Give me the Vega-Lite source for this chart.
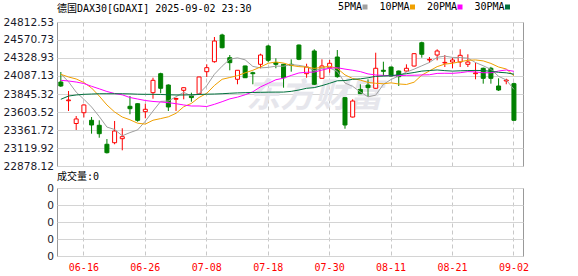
{
  "$schema": "https://vega.github.io/schema/vega-lite/v6.json",
  "background": "white",
  "padding": {"left": 2, "top": 2, "right": 2, "bottom": 2},
  "spacing": -2,
  "config": {
    "view": {"stroke": "#999999", "strokeWidth": 1},
    "axis": {"domain": false, "ticks": false, "gridColor": "#d4d4d4", "gridWidth": 1, "labelFont": "DejaVu Sans", "labelFontSize": 10.6, "labelColor": "#1a1a2a"},
    "legend": {
      "orient": "none", "legendX": 303, "legendY": -20, "direction": "horizontal", "title": null,
      "symbolType": "stroke", "symbolSize": 25, "symbolStrokeWidth": 5,
      "labelFont": "DejaVu Sans Mono", "labelFontSize": 10, "labelColor": "#000000",
      "labelAlign": "right", "labelOffset": -8, "columnPadding": 0.5, "padding": 0
    }
  },
  "datasets": {
    "k": [
      {"d":"06-11","o":24006,"h":24141,"l":23940,"c":23953,"5PMA":24115,"10PMA":24110,"20PMA":24029,"30PMA":23774,"v":0},
      {"d":"06-12","o":23755,"h":23886,"l":23617,"c":23765,"5PMA":24010,"10PMA":24074,"20PMA":24020,"30PMA":23818,"v":0},
      {"d":"06-13","o":23449,"h":23550,"l":23362,"c":23510,"5PMA":23870,"10PMA":24047,"20PMA":24006,"30PMA":23832,"v":0},
      {"d":"06-16","o":23594,"h":23705,"l":23530,"c":23698,"5PMA":23775,"10PMA":24000,"20PMA":23986,"30PMA":23841,"v":0},
      {"d":"06-17","o":23492,"h":23536,"l":23312,"c":23429,"5PMA":23671,"10PMA":23926,"20PMA":23949,"30PMA":23845,"v":0},
      {"d":"06-18","o":23425,"h":23492,"l":23258,"c":23312,"5PMA":23543,"10PMA":23818,"20PMA":23915,"30PMA":23849,"v":0},
      {"d":"06-19","o":23170,"h":23240,"l":23046,"c":23057,"5PMA":23401,"10PMA":23698,"20PMA":23879,"30PMA":23849,"v":0},
      {"d":"06-20","o":23191,"h":23483,"l":23170,"c":23348,"5PMA":23369,"10PMA":23604,"20PMA":23852,"30PMA":23849,"v":0},
      {"d":"06-23","o":23245,"h":23385,"l":23089,"c":23272,"5PMA":23284,"10PMA":23536,"20PMA":23834,"30PMA":23849,"v":0},
      {"d":"06-24","o":23680,"h":23818,"l":23573,"c":23648,"5PMA":23327,"10PMA":23499,"20PMA":23798,"30PMA":23847,"v":0},
      {"d":"06-25","o":23715,"h":23720,"l":23473,"c":23492,"5PMA":23363,"10PMA":23453,"20PMA":23778,"30PMA":23843,"v":0},
      {"d":"06-26","o":23608,"h":23715,"l":23519,"c":23640,"5PMA":23480,"10PMA":23441,"20PMA":23758,"30PMA":23841,"v":0},
      {"d":"06-27","o":23863,"h":24064,"l":23782,"c":24029,"5PMA":23616,"10PMA":23493,"20PMA":23745,"30PMA":23841,"v":0},
      {"d":"06-30","o":24118,"h":24131,"l":23855,"c":23922,"5PMA":23746,"10PMA":23515,"20PMA":23738,"30PMA":23839,"v":0},
      {"d":"07-01","o":23966,"h":23975,"l":23617,"c":23671,"5PMA":23751,"10PMA":23539,"20PMA":23729,"30PMA":23835,"v":0},
      {"d":"07-02","o":23775,"h":23796,"l":23617,"c":23785,"5PMA":23809,"10PMA":23586,"20PMA":23715,"30PMA":23832,"v":0},
      {"d":"07-03","o":23895,"h":23932,"l":23774,"c":23930,"5PMA":23867,"10PMA":23674,"20PMA":23698,"30PMA":23832,"v":0},
      {"d":"07-04","o":23820,"h":23863,"l":23742,"c":23797,"5PMA":23821,"10PMA":23719,"20PMA":23684,"30PMA":23835,"v":0},
      {"d":"07-07","o":23849,"h":24076,"l":23847,"c":24074,"5PMA":23851,"10PMA":23799,"20PMA":23684,"30PMA":23839,"v":0},
      {"d":"07-08","o":24145,"h":24244,"l":24074,"c":24199,"5PMA":23957,"10PMA":23854,"20PMA":23677,"30PMA":23843,"v":0},
      {"d":"07-09","o":24279,"h":24611,"l":24266,"c":24557,"5PMA":24111,"10PMA":23960,"20PMA":23707,"30PMA":23845,"v":0},
      {"d":"07-10","o":24638,"h":24655,"l":24459,"c":24467,"5PMA":24219,"10PMA":24043,"20PMA":23742,"30PMA":23849,"v":0},
      {"d":"07-11","o":24333,"h":24369,"l":24164,"c":24266,"5PMA":24313,"10PMA":24067,"20PMA":23780,"30PMA":23855,"v":0},
      {"d":"07-14","o":24043,"h":24166,"l":23976,"c":24164,"5PMA":24331,"10PMA":24091,"20PMA":23803,"30PMA":23860,"v":0},
      {"d":"07-15","o":24222,"h":24225,"l":24060,"c":24064,"5PMA":24304,"10PMA":24130,"20PMA":23835,"30PMA":23863,"v":0},
      {"d":"07-16","o":24131,"h":24145,"l":23976,"c":24118,"5PMA":24216,"10PMA":24164,"20PMA":23875,"30PMA":23866,"v":0},
      {"d":"07-17","o":24244,"h":24387,"l":24191,"c":24369,"5PMA":24196,"10PMA":24208,"20PMA":23941,"30PMA":23868,"v":0},
      {"d":"07-18","o":24490,"h":24505,"l":24270,"c":24298,"5PMA":24203,"10PMA":24258,"20PMA":23988,"30PMA":23870,"v":0},
      {"d":"07-21","o":24266,"h":24325,"l":24191,"c":24244,"5PMA":24219,"10PMA":24275,"20PMA":24037,"30PMA":23871,"v":0},
      {"d":"07-22","o":24244,"h":24250,"l":23930,"c":24064,"5PMA":24219,"10PMA":24261,"20PMA":24058,"30PMA":23871,"v":0},
      {"d":"07-23","o":24244,"h":24311,"l":24145,"c":24232,"5PMA":24241,"10PMA":24229,"20PMA":24095,"30PMA":23881,"v":0},
      {"d":"07-24","o":24503,"h":24510,"l":24300,"c":24312,"5PMA":24230,"10PMA":24213,"20PMA":24128,"30PMA":23899,"v":0},
      {"d":"07-25","o":24118,"h":24252,"l":24064,"c":24208,"5PMA":24212,"10PMA":24207,"20PMA":24137,"30PMA":23922,"v":0},
      {"d":"07-28","o":24423,"h":24446,"l":23966,"c":23976,"5PMA":24158,"10PMA":24189,"20PMA":24140,"30PMA":23931,"v":0},
      {"d":"07-29","o":24056,"h":24311,"l":24050,"c":24222,"5PMA":24190,"10PMA":24204,"20PMA":24167,"30PMA":23958,"v":0},
      {"d":"07-30","o":24199,"h":24302,"l":24131,"c":24258,"5PMA":24195,"10PMA":24218,"20PMA":24191,"30PMA":23989,"v":0},
      {"d":"07-31","o":24342,"h":24436,"l":24064,"c":24078,"5PMA":24148,"10PMA":24189,"20PMA":24198,"30PMA":24023,"v":0},
      {"d":"08-01","o":23796,"h":23805,"l":23379,"c":23429,"5PMA":23993,"10PMA":24102,"20PMA":24180,"30PMA":24026,"v":0},
      {"d":"08-04","o":23536,"h":23774,"l":23530,"c":23751,"5PMA":23948,"10PMA":24053,"20PMA":24164,"30PMA":24042,"v":0},
      {"d":"08-05","o":23908,"h":23976,"l":23845,"c":23849,"5PMA":23873,"10PMA":24032,"20PMA":24146,"30PMA":24049,"v":0},
      {"d":"08-06","o":23966,"h":24043,"l":23805,"c":23930,"5PMA":23807,"10PMA":24001,"20PMA":24115,"30PMA":24063,"v":0},
      {"d":"08-07","o":23922,"h":24400,"l":23915,"c":24191,"5PMA":23830,"10PMA":23989,"20PMA":24101,"30PMA":24082,"v":0},
      {"d":"08-08","o":24164,"h":24279,"l":24087,"c":24150,"5PMA":23974,"10PMA":23983,"20PMA":24095,"30PMA":24086,"v":0},
      {"d":"08-11","o":24208,"h":24212,"l":24080,"c":24087,"5PMA":24041,"10PMA":23995,"20PMA":24092,"30PMA":24091,"v":0},
      {"d":"08-12","o":24154,"h":24160,"l":23953,"c":24078,"5PMA":24087,"10PMA":23980,"20PMA":24092,"30PMA":24105,"v":0},
      {"d":"08-13","o":24154,"h":24244,"l":24145,"c":24191,"5PMA":24139,"10PMA":23973,"20PMA":24096,"30PMA":24118,"v":0},
      {"d":"08-14","o":24221,"h":24395,"l":24215,"c":24387,"5PMA":24179,"10PMA":24004,"20PMA":24097,"30PMA":24134,"v":0},
      {"d":"08-15","o":24534,"h":24548,"l":24333,"c":24379,"5PMA":24224,"10PMA":24099,"20PMA":24101,"30PMA":24153,"v":0},
      {"d":"08-18","o":24302,"h":24342,"l":24266,"c":24310,"5PMA":24269,"10PMA":24155,"20PMA":24104,"30PMA":24161,"v":0},
      {"d":"08-19","o":24369,"h":24446,"l":24298,"c":24423,"5PMA":24338,"10PMA":24213,"20PMA":24122,"30PMA":24168,"v":0},
      {"d":"08-20","o":24262,"h":24369,"l":24208,"c":24270,"5PMA":24354,"10PMA":24247,"20PMA":24124,"30PMA":24159,"v":0},
      {"d":"08-21","o":24275,"h":24333,"l":24191,"c":24302,"5PMA":24337,"10PMA":24258,"20PMA":24123,"30PMA":24153,"v":0},
      {"d":"08-22","o":24275,"h":24446,"l":24208,"c":24365,"5PMA":24334,"10PMA":24279,"20PMA":24131,"30PMA":24157,"v":0},
      {"d":"08-25","o":24244,"h":24379,"l":24208,"c":24275,"5PMA":24327,"10PMA":24298,"20PMA":24146,"30PMA":24160,"v":0},
      {"d":"08-26","o":24118,"h":24266,"l":24043,"c":24128,"5PMA":24268,"10PMA":24303,"20PMA":24142,"30PMA":24162,"v":0},
      {"d":"08-27","o":24191,"h":24200,"l":23984,"c":24056,"5PMA":24225,"10PMA":24290,"20PMA":24131,"30PMA":24160,"v":0},
      {"d":"08-28","o":24191,"h":24210,"l":23984,"c":24056,"5PMA":24176,"10PMA":24256,"20PMA":24130,"30PMA":24150,"v":0},
      {"d":"08-29","o":23953,"h":24056,"l":23886,"c":23899,"5PMA":24083,"10PMA":24208,"20PMA":24154,"30PMA":24137,"v":0},
      {"d":"09-01","o":24020,"h":24051,"l":23976,"c":24033,"5PMA":24034,"10PMA":24181,"20PMA":24168,"30PMA":24130,"v":0},
      {"d":"09-02","o":23984,"h":23997,"l":23490,"c":23492,"5PMA":23907,"10PMA":24088,"20PMA":24150,"30PMA":24111,"v":0}
    ]
  },
  "vconcat": [
    {
      "width": 466,
      "height": 144,
      "title": {"text": "德国DAX30[GDAXI] 2025-09-02 23:30", "anchor": "start", "frame": "group", "font": "DejaVu Sans Mono, Noto Sans CJK SC", "fontSize": 10, "fontWeight": "normal", "color": "#000000", "offset": 3},
      "data": {"name": "k"},
      "encoding": {
        "x": {
          "field": "d", "type": "ordinal", "sort": null, "title": null,
          "scale": {"type": "band", "paddingInner": 0, "paddingOuter": 0.34, "align": 0, "domain": ["06-11","06-12","06-13","06-16","06-17","06-18","06-19","06-20","06-23","06-24","06-25","06-26","06-27","06-30","07-01","07-02","07-03","07-04","07-07","07-08","07-09","07-10","07-11","07-14","07-15","07-16","07-17","07-18","07-21","07-22","07-23","07-24","07-25","07-28","07-29","07-30","07-31","08-01","08-04","08-05","08-06","08-07","08-08","08-11","08-12","08-13","08-14","08-15","08-18","08-19","08-20","08-21","08-22","08-25","08-26","08-27","08-28","08-29","09-01","09-02"]},
          "axis": {"values": ["06-16","06-26","07-08","07-18","07-30","08-11","08-21","09-02"], "labels": false, "ticks": false, "domain": false, "grid": true, "gridDash": [4, 3], "gridColor": "#c8c8c8", "labelPadding": 0, "title": null}
        }
      },
      "layer": [
        {
          "data": {"values": [{"d": "07-28", "p": 23800, "t": "东方财富"}]},
          "mark": {"type": "text", "font": "Noto Sans CJK SC", "fontSize": 34, "fontWeight": "bold", "fontStyle": "italic", "color": "#e6e6ec"},
          "encoding": {
            "y": {"field": "p", "type": "quantitative", "scale": {"domain": [22878.12, 24812.53], "nice": false, "zero": false}, "axis": {"title": null, "values": [22878.12, 23119.92, 23361.72, 23603.52, 23845.32, 24087.13, 24328.93, 24570.73, 24812.53], "format": ".2f", "grid": true, "labelPadding": 3.5, "labelOverlap": false}},
            "text": {"field": "t"}
          }
        },
        {
          "mark": {"type": "rule", "strokeWidth": 1},
          "encoding": {
            "y": {"field": "l", "type": "quantitative", "scale": {"domain": [22878.12, 24812.53], "nice": false, "zero": false}, "axis": {"title": null, "values": [22878.12, 23119.92, 23361.72, 23603.52, 23845.32, 24087.13, 24328.93, 24570.73, 24812.53], "format": ".2f", "grid": true, "labelPadding": 3.5, "labelOverlap": false}},
            "y2": {"field": "h"},
            "color": {"condition": {"test": "datum.c >= datum.o", "value": "#ff0000"}, "value": "#008000"}
          }
        },
        {
          "mark": {"type": "bar", "size": 4, "strokeWidth": 1},
          "encoding": {
            "y": {"field": "o", "type": "quantitative", "scale": {"domain": [22878.12, 24812.53], "nice": false, "zero": false}, "axis": {"title": null, "values": [22878.12, 23119.92, 23361.72, 23603.52, 23845.32, 24087.13, 24328.93, 24570.73, 24812.53], "format": ".2f", "grid": true, "labelPadding": 3.5, "labelOverlap": false}},
            "y2": {"field": "c"},
            "fill": {"condition": {"test": "datum.c >= datum.o", "value": "#ffffff"}, "value": "#008000"},
            "stroke": {"condition": {"test": "datum.c >= datum.o", "value": "#ff0000"}, "value": "#008000"}
          }
        },
        {
          "transform": [{"fold": ["5PMA", "10PMA", "20PMA", "30PMA"], "as": ["ma", "val"]}],
          "mark": {"type": "line", "strokeWidth": 1},
          "encoding": {
            "y": {"field": "val", "type": "quantitative", "scale": {"domain": [22878.12, 24812.53], "nice": false, "zero": false}, "axis": {"title": null, "values": [22878.12, 23119.92, 23361.72, 23603.52, 23845.32, 24087.13, 24328.93, 24570.73, 24812.53], "format": ".2f", "grid": true, "labelPadding": 3.5, "labelOverlap": false}},
            "color": {"field": "ma", "type": "nominal", "scale": {"domain": ["5PMA", "10PMA", "20PMA", "30PMA"], "range": ["#a0a0a0", "#f0a000", "#ff00ff", "#00703c"]}, "legend": {}}
          }
        }
      ]
    },
    {
      "width": 466,
      "height": 68,
      "title": {"text": "成交量:0", "anchor": "start", "frame": "group", "font": "DejaVu Sans Mono, Noto Sans CJK SC", "fontSize": 10, "fontWeight": "normal", "color": "#000000", "offset": 1},
      "data": {"name": "k"},
      "mark": {"type": "bar", "size": 4},
      "encoding": {
        "x": {
          "field": "d", "type": "ordinal", "sort": null, "title": null,
          "scale": {"type": "band", "paddingInner": 0, "paddingOuter": 0.34, "align": 0, "domain": ["06-11","06-12","06-13","06-16","06-17","06-18","06-19","06-20","06-23","06-24","06-25","06-26","06-27","06-30","07-01","07-02","07-03","07-04","07-07","07-08","07-09","07-10","07-11","07-14","07-15","07-16","07-17","07-18","07-21","07-22","07-23","07-24","07-25","07-28","07-29","07-30","07-31","08-01","08-04","08-05","08-06","08-07","08-08","08-11","08-12","08-13","08-14","08-15","08-18","08-19","08-20","08-21","08-22","08-25","08-26","08-27","08-28","08-29","09-01","09-02"]},
          "axis": {"values": ["06-16","06-26","07-08","07-18","07-30","08-11","08-21","09-02"], "grid": true, "gridDash": [4, 3], "gridColor": "#c8c8c8", "labelAngle": 0, "labelColor": "#ff0000", "labelFont": "DejaVu Sans Mono", "labelFontSize": 10, "labelPadding": 6, "title": null}
        },
        "y": {"field": "v", "type": "quantitative", "title": null, "scale": {"domain": [0, 4], "nice": false, "zero": false}, "axis": {"values": [0, 1, 2, 3, 4], "labelExpr": "'0'", "grid": true, "labelPadding": 3.5, "labelOverlap": false, "title": null}},
        "color": {"value": "#008000"}
      }
    }
  ]
}
